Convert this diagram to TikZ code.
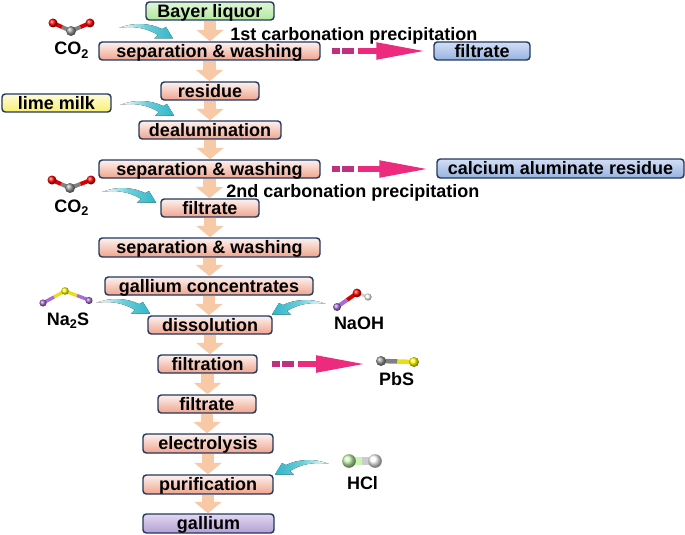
\documentclass[tikz,border=0pt]{standalone}
\usepackage{fontspec}
\setmainfont{Liberation Sans}
\usetikzlibrary{arrows.meta,calc}
\definecolor{frameblue}{HTML}{22375F}
\definecolor{flowc}{HTML}{F8C9A6}
\definecolor{pinkc}{HTML}{EC2A7E}
\definecolor{pinkd}{HTML}{BE3080}
\definecolor{tealc}{HTML}{2FB7C9}
\definecolor{redb}{HTML}{F0A48C}
\definecolor{greenb}{HTML}{B2E89A}
\definecolor{yellowb}{HTML}{F8F070}
\definecolor{bluet}{HTML}{D2DEF4}
\definecolor{blueb}{HTML}{98B2E0}
\definecolor{purplet}{HTML}{E2D8F0}
\definecolor{purpleb}{HTML}{B39FD3}
\definecolor{naviolet}{HTML}{A56BD6}
\definecolor{clgreen}{HTML}{C8F8B0}
\tikzset{
  stepbox/.style={draw=frameblue,line width=1.1pt,rounded corners=2.5pt,inner sep=0pt,
    font=\bfseries\fontsize{13.5}{15}\selectfont,text height=9.6pt,text depth=0pt,align=center},
  redbox/.style={stepbox,top color=redb!15!white,bottom color=redb},
  greenbox/.style={stepbox,top color=greenb!40!white,bottom color=greenb},
  yellowbox/.style={stepbox,top color=yellowb!25!white,bottom color=yellowb},
  bluebox/.style={stepbox,top color=bluet,bottom color=blueb},
  purplebox/.style={stepbox,top color=purplet,bottom color=purpleb},
  flow/.style={draw=flowc,line width=9.6pt,-{Triangle[length=8.5pt,width=20pt,color=flowc]}},
  rejectdash/.style={draw=pinkd,line width=5.2pt,dash pattern=on 6pt off 2pt on 9pt off 10pt},
  rejectarrow/.style={draw=pinkc,line width=5.2pt,-{Triangle[length=39pt,width=11.5pt,color=pinkc]}},
  lbl/.style={font=\bfseries\fontsize{13.5}{15}\selectfont,inner sep=0pt,anchor=base},
  swooshr/.style={left color=white,right color=tealc,middle color=tealc!70!white,draw=none},
  swooshl/.style={right color=white,left color=tealc,middle color=tealc!70!white,draw=none},
}
\newcommand{\lowtwo}{\raisebox{-2.6pt}{\fontsize{9.5}{10}\selectfont 2}}
\newcommand{\bx}[7]{\node[#6,minimum width={(#4-#2)*0.75pt},minimum height={(#5-#3)*0.75pt}]
  (#1) at ({(#2+#4)/2},{(#3+#5)/2}) {#7};}
\newcommand{\swoosh}[4]{\fill[#4,shift={(#1,#2)},xscale=#3]
  (0,0) .. controls (14,-6) and (31,-5) .. (43,1) -- (47,-1) -- (54,10.5) -- (35,10.5) -- (39,7)
  .. controls (28,0) and (14,-2.5) .. (0,0) -- cycle;}
\newcommand{\atom}[4]{\shade[ball color=#4] (#1,#2) circle [radius=#3];}
\newcommand{\stick}[6]{\draw[line width=#6pt,#5] (#1,#2) -- (#3,#4);}
\newcommand{\bond}[7]{\stick{#1}{#2}{#3}{#4}{#5}{#7}\stick{#3}{#4}{{2*#3-#1}}{{2*#4-#2}}{#6}{#7}}
\newcommand{\flowto}[2]{\draw[flow] (#1.south) -- (#1.south |- #2.north);}
\newcommand{\reject}[3]{%
  \draw[rejectdash] ([xshift=#3*0.75pt]#1.east) -- ([xshift=#3*0.75pt+23*0.75pt]#1.east);
  \draw[rejectarrow] ([xshift=#3*0.75pt+26*0.75pt]#1.east) -- ([xshift=-5*0.75pt]#2.west |- #1.east);}
\begin{document}
\begin{tikzpicture}[x=0.75pt,y=-0.75pt]
\useasboundingbox (0,0) rectangle (685,535);
% swooshes
\swoosh{119}{28}{1}{swooshr}
\swoosh{120}{105}{1}{swooshr}
\swoosh{102}{192}{1}{swooshr}
\swoosh{96}{303}{1}{swooshr}
\swoosh{326}{304}{-1}{swooshl}
\swoosh{329}{464}{-1}{swooshl}
% main column
\bx{bayer}{146}{2}{274}{20}{greenbox}{Bayer liquor}
\bx{sepa}{99}{42}{320}{60}{redbox}{separation \& washing}
\bx{resa}{161}{82}{259}{100}{redbox}{residue}
\bx{deal}{139}{121}{281}{139}{redbox}{dealumination}
\bx{sepb}{99}{160}{320}{178}{redbox}{separation \& washing}
\bx{filb}{161}{199}{259}{217}{redbox}{filtrate}
\bx{sepc}{99}{238}{320}{257}{redbox}{separation \& washing}
\bx{conc}{105}{277}{313}{295}{redbox}{gallium concentrates}
\bx{diss}{148}{316}{272}{334}{redbox}{dissolution}
\bx{ftn}{158}{355}{257}{373}{redbox}{filtration}
\bx{filc}{158}{395}{256}{413}{redbox}{filtrate}
\bx{elec}{143}{434}{273}{453}{redbox}{electrolysis}
\bx{puri}{143}{475}{273}{494}{redbox}{purification}
\bx{gall}{143}{514}{274}{533}{purplebox}{gallium}
\bx{lime}{2}{94}{111}{112}{yellowbox}{lime milk}
\bx{fila}{434}{42}{530}{60}{bluebox}{filtrate}
\bx{calc}{437}{159}{684}{178}{bluebox}{calcium aluminate residue}
% flow arrows
\flowto{bayer}{sepa}\flowto{sepa}{resa}\flowto{resa}{deal}\flowto{deal}{sepb}
\flowto{sepb}{filb}\flowto{filb}{sepc}\flowto{sepc}{conc}\flowto{conc}{diss}
\flowto{diss}{ftn}\flowto{ftn}{filc}\flowto{filc}{elec}\flowto{elec}{puri}\flowto{puri}{gall}
% reject arrows
\coordinate (pbsend) at (373,364);
\reject{sepa}{fila}{11}
\reject{sepb}{calc}{11}
\reject{ftn}{pbsend}{14}
% labels
\node[lbl,anchor=base west] (cpa) at (230,40.5) {1st carbonation precipitation};
\node[lbl,anchor=base west] (cpb) at (226,197) {2nd carbonation precipitation};
\node[lbl] (coa) at (71.5,55) {CO\lowtwo};
\node[lbl] (cob) at (71.5,212) {CO\lowtwo};
\node[lbl] (nas) at (68,325) {Na\lowtwo S};
\node[lbl] (naoh) at (359,329) {NaOH};
\node[lbl] (pbs) at (396.5,385) {PbS};
\node[lbl] (hcl) at (362.5,489) {HCl};
% CO2 molecules
\bond{71}{31}{62}{27}{gray}{red!85!black}{3}
\bond{71}{31}{80.5}{27}{gray}{red!85!black}{3}
\atom{53}{23}{4.5}{red}\atom{90}{23}{4.5}{red}\atom{71}{31}{5}{gray!80}
\bond{70}{188}{61}{184}{gray}{red!85!black}{3}
\bond{70}{188}{80.5}{184}{gray}{red!85!black}{3}
\atom{52}{180}{4.5}{red}\atom{91}{180}{4.5}{red}\atom{70}{188}{5}{gray!80}
% Na2S
\bond{65}{291}{54}{297}{yellow!90!black}{naviolet}{2.5}
\bond{65}{291}{77}{295.5}{yellow!90!black}{naviolet}{2.5}
\atom{43}{303}{3.6}{naviolet}\atom{89}{300.5}{3.6}{naviolet}\atom{65}{291}{3.8}{yellow}
% NaOH
\bond{357}{293}{347}{300}{red!85!black}{naviolet}{3}
\stick{357}{293}{368}{297}{gray!40}{2}
\atom{337}{307}{4}{naviolet}\atom{357}{293}{4.4}{red}\atom{368}{297}{3.6}{white}
% PbS
\bond{381}{361}{397.5}{361.5}{gray}{yellow!90!black}{3.4}
\atom{381}{361}{5}{gray!80}\atom{414}{362}{5}{yellow}
% HCl
\bond{349}{461}{362}{461}{clgreen}{gray!40}{6}
\atom{349}{461}{6.8}{clgreen}\atom{375}{461}{6.8}{white}
\end{tikzpicture}
\end{document}
